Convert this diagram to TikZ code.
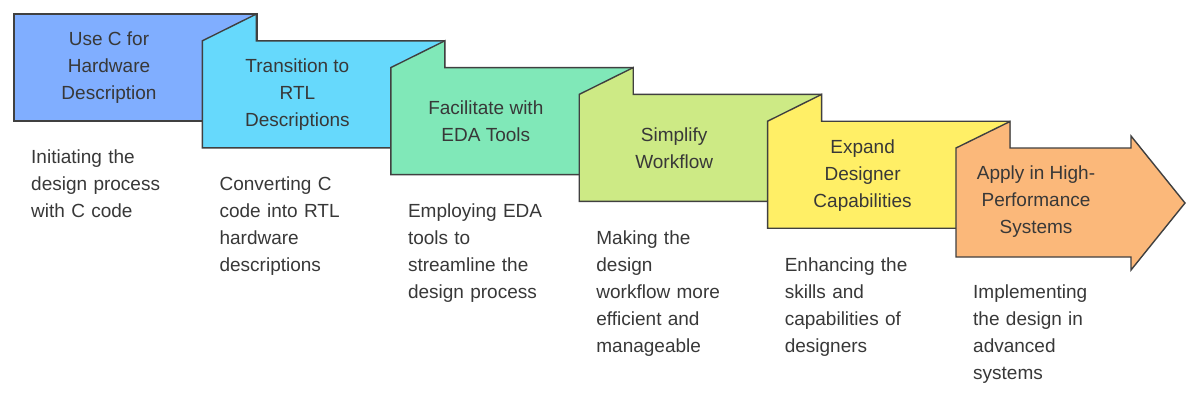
\documentclass[tikz,border=0pt]{standalone}
\usepackage{fontspec}
\setmainfont{Liberation Sans}
\begin{document}
\begin{tikzpicture}[x=1pt,y=-1pt,
  box/.style={draw=black!75,line width=1.4pt,line join=miter},
  ttl/.style={align=center,text=black!78,font=\fontsize{19}{27}\selectfont,inner sep=0pt},
  dsc/.style={align=left,text=black!78,font=\fontsize{19}{27}\selectfont,inner sep=0pt,anchor=north west,text width=170pt}]
\useasboundingbox[fill=white] (0,0) rectangle (1200,405);
\definecolor{c1}{HTML}{80AEFF}
\definecolor{c2}{HTML}{66D9FC}
\definecolor{c3}{HTML}{80E8B8}
\definecolor{c4}{HTML}{CDEA85}
\definecolor{c5}{HTML}{FFEF66}
\definecolor{c6}{HTML}{FBB87A}
% box 1
\path[box,fill=c1] (14,14) rectangle (257,121);
\node[ttl] (t1) at (109,68) {Use C for\\Hardware\\Description};
\node[dsc] (d1) at (31,150) {Initiating the\\design process\\with C code};
% box 2..5
\foreach \i/\c/\txt/\d in {
 1/c2/{Transition to\\RTL\\Descriptions}/{Converting C\\code into RTL\\hardware\\descriptions},
 2/c3/{Facilitate with\\EDA Tools}/{Employing EDA\\tools to\\streamline the\\design process},
 3/c4/{Simplify\\Workflow}/{Making the\\design\\workflow more\\efficient and\\manageable},
 4/c5/{Expand\\Designer\\Capabilities}/{Enhancing the\\skills and\\capabilities of\\designers}}{
  \pgfmathsetmacro\L{14+188.4*\i}
  \pgfmathsetmacro\T{14+26.8*\i}
  \path[box,fill=\c] (\L,\T) -- (\L+54,\T-26.8) -- (\L+54,\T) -- (\L+242,\T) -- (\L+242,\T+107) -- (\L,\T+107) -- cycle;
  \node[ttl] (t\i) at (\L+95,\T+54) {\txt};
  \node[dsc] (d\i) at (\L+17,\T+136) {\d};
}
% box 6 arrow
\path[box,fill=c6] (956,148) -- (1010,121.5) -- (1010,148) -- (1131,148) -- (1131,136) -- (1185,203) -- (1131,270) -- (1131,257) -- (956,257) -- cycle;
\node[ttl] (t6) at (1036,202) {Apply in High-\\Performance\\Systems};
\node[dsc] (d6) at (973,285) {Implementing\\the design in\\advanced\\systems};
\end{tikzpicture}
\end{document}
